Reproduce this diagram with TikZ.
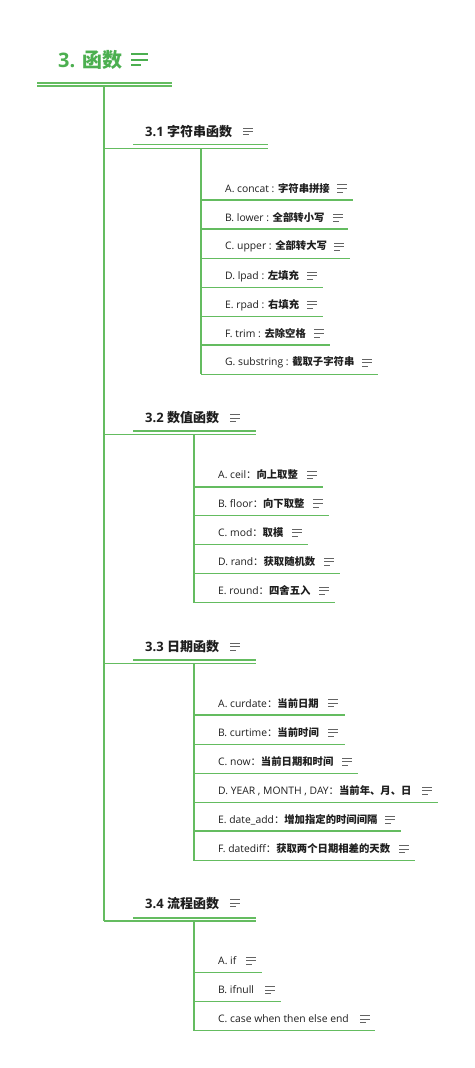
\documentclass[tikz,border=0pt]{standalone}
\usepackage{fontspec}
\setmainfont{Open Sans}
\newfontfamily\cjk{Noto Sans CJK SC}
\definecolor{lgreen}{RGB}{100,188,96}
\definecolor{rgreen}{RGB}{76,175,80}
\definecolor{txt}{RGB}{30,30,30}
\definecolor{icn}{RGB}{100,100,100}
\newcommand\zh[1]{{\cjk\bfseries #1}}
\newcommand\zc{{\cjk ：}}
\tikzset{
  rootnode/.style={anchor=west,inner sep=0pt,text=rgreen,font=\fontsize{20}{24}\selectfont\bfseries},
  lonenode/.style={anchor=west,inner sep=0pt,text=txt,font=\fontsize{13}{16}\selectfont\bfseries},
  leafnode/.style={anchor=west,inner sep=0pt,text=txt,font=\fontsize{10.35}{13}\selectfont},
  gline/.style={draw=lgreen,line width=1.4pt},
  hline/.style={draw=lgreen,line width=1.6pt},
  rline/.style={draw=lgreen,line width=2pt},
  iconline/.style={draw=icn,line width=1pt},
  ricon/.style={draw=rgreen,line width=1.8pt}
}
\newcommand\noteicon[4]{\draw[iconline] (#1,#2-#4) -- ++(#3,0) (#1,#2) -- ++(#3,0) (#1,#2+#4) -- ++(0.55*#3,0);}
\newcommand\leaf[8]{%
  \node[leafnode] (#1) at (#2,#3) {#4};
  \coordinate (#1u) at (#6,#3+#8);
  \draw[gline] (#5 |- #1u) -- (#1u);
  \noteicon{#7}{#3}{10}{3.6}}
\begin{document}
\begin{tikzpicture}[x=1pt,y=-1pt]
\useasboundingbox[fill=white] (0,0) rectangle (474,1068);
% root
\node[rootnode] (r) at (58,60) {3. \zh{函数}};
\draw[ricon] (131,54.3) -- (148,54.3) (131,59.7) -- (148,59.7) (131,65) -- (141,65);
\coordinate (rl1) at (37,82.5); \coordinate (rl2) at (172,82.5);
\coordinate (rl3) at (37,85.7); \coordinate (rl4) at (172,85.7);
\draw[rline] (rl1) -- (rl2);
\draw[rline] (rl3) -- (rl4);
\coordinate (t0) at (104,85.7);
% level 1
\node[lonenode] (s1) at (145,131.5) {3.1 \zh{字符串函数}};
\noteicon{243}{131.5}{10}{3.4}
\coordinate (s1a) at (133,144.3); \coordinate (s1b) at (268,144.3); \coordinate (s1l) at (268,148.3);
\draw[hline] (s1a) -- (s1b); \draw[hline] (t0 |- s1l) -- (s1l);
\node[lonenode] (s2) at (145,418) {3.2 \zh{数值函数}};
\noteicon{230}{418}{10}{3.4}
\coordinate (s2a) at (133,431); \coordinate (s2b) at (256,431); \coordinate (s2l) at (256,434.3);
\draw[hline] (s2a) -- (s2b); \draw[hline] (t0 |- s2l) -- (s2l);
\node[lonenode] (s3) at (145,646.7) {3.3 \zh{日期函数}};
\noteicon{230}{646.7}{10}{3.4}
\coordinate (s3a) at (133,660); \coordinate (s3b) at (256,660); \coordinate (s3l) at (256,663.3);
\draw[hline] (s3a) -- (s3b); \draw[hline] (t0 |- s3l) -- (s3l);
\node[lonenode] (s4) at (145,903.3) {3.4 \zh{流程函数}};
\noteicon{230}{903.3}{10}{3.4}
\coordinate (s4a) at (133,917.7); \coordinate (s4b) at (256,917.7); \coordinate (s4l) at (256,921);
\draw[hline] (s4a) -- (s4b); \draw[hline] (t0 |- s4l) -- (s4l);
\draw[hline] (t0) -- (t0 |- s4l);
% 3.1 children
\coordinate (v1) at (201,148.3);
\leaf{a1}{225}{188.5}{A. concat : \zh{字符串拼接}}{v1}{353}{337}{11.5}
\leaf{a2}{225}{217.6}{B. lower : \zh{全部转小写}}{v1}{348}{333}{11.5}
\leaf{a3}{225}{246.7}{C. upper : \zh{全部转大写}}{v1}{350}{334}{11.5}
\leaf{a4}{225}{275.8}{D. lpad : \zh{左填充}}{v1}{323}{307}{11.5}
\leaf{a5}{225}{304.8}{E. rpad : \zh{右填充}}{v1}{323}{307}{11.5}
\leaf{a6}{225}{333.5}{F. trim : \zh{去除空格}}{v1}{330}{314}{11.5}
\leaf{a7}{225}{362.7}{G. substring : \zh{截取子字符串}}{v1}{378}{362}{11.5}
\draw[gline] (v1) -- (v1 |- a7u);
% 3.2 children
\coordinate (v2) at (194,434.3);
\leaf{b1}{218}{475}{A. ceil\zc\zh{向上取整}}{v2}{323}{307}{12}
\leaf{b2}{218}{503.5}{B. floor\zc\zh{向下取整}}{v2}{329}{313}{12}
\leaf{b3}{218}{532.7}{C. mod\zc\zh{取模}}{v2}{308}{292}{12}
\leaf{b4}{218}{561.7}{D. rand\zc\zh{获取随机数}}{v2}{340}{324}{12}
\leaf{b5}{218}{590.7}{E. round\zc\zh{四舍五入}}{v2}{335}{319}{12}
\draw[gline] (v2) -- (v2 |- b5u);
% 3.3 children
\coordinate (v3) at (194,663.3);
\leaf{c1}{218}{703.3}{A. curdate\zc\zh{当前日期}}{v3}{345}{328}{11.6}
\leaf{c2}{218}{732.7}{B. curtime\zc\zh{当前时间}}{v3}{345}{328}{11.6}
\leaf{c3}{218}{761.7}{C. now\zc\zh{当前日期和时间}}{v3}{358}{342}{11.6}
\leaf{c4}{218}{790.8}{D. YEAR , MONTH , DAY\zc\zh{当前年、月、日}}{v3}{438}{422}{11.5}
\leaf{c5}{218}{819.8}{E. date\_add\zc\zh{增加指定的时间间隔}}{v3}{401}{385}{11.3}
\leaf{c6}{218}{849}{F. datediff\zc\zh{获取两个日期相差的天数}}{v3}{415}{399}{11.7}
\draw[gline] (v3) -- (v3 |- c6u);
% 3.4 children
\coordinate (v4) at (194,921);
\leaf{d1}{218}{960.7}{A. if}{v4}{262}{246}{12}
\leaf{d2}{218}{990}{B. ifnull}{v4}{281}{265}{11.7}
\leaf{d3}{218}{1019}{C. case when then else end}{v4}{375}{360}{11.7}
\draw[gline] (v4) -- (v4 |- d3u);
\end{tikzpicture}
\end{document}
